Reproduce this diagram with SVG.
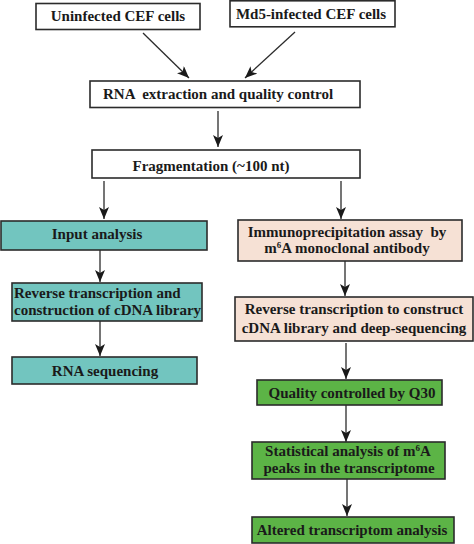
<svg xmlns="http://www.w3.org/2000/svg" width="474" height="544" viewBox="0 0 474 544">
<style>
.box{stroke:#2b2b2b;stroke-width:1.6}
.w{fill:#ffffff}
.t{fill:#72c5bf}
.b{fill:#f6e1d5}
.g{fill:#5cb446}
text{font-family:"Liberation Serif","Times New Roman",serif;font-weight:bold;font-size:15px;fill:#1a1a1a}
.c{text-anchor:middle}
.ln{stroke:#2b2b2b;stroke-width:1.3;fill:none;marker-end:url(#ah)}
</style>
<defs>
<marker id="ah" markerUnits="userSpaceOnUse" markerWidth="12" markerHeight="10" viewBox="0 0 12 10" refX="12" refY="5" orient="auto">
<path d="M0,0 L12,5 L0,10 L3,5 Z" fill="#1a1a1a"/>
</marker>
</defs>
<rect width="474" height="544" fill="#ffffff"/>
<g id="connectors">
<line class="ln" x1="143" y1="33" x2="189" y2="78"/>
<line class="ln" x1="295" y1="32" x2="245" y2="78"/>
<line class="ln" x1="218" y1="111" x2="218" y2="147"/>
<line class="ln" x1="104" y1="181" x2="104" y2="219"/>
<line class="ln" x1="341" y1="181" x2="341" y2="219"/>
<line class="ln" x1="100" y1="250" x2="100" y2="282"/>
<line class="ln" x1="100" y1="321" x2="100" y2="356"/>
<line class="ln" x1="345" y1="261" x2="345" y2="296"/>
<line class="ln" x1="346" y1="343" x2="346" y2="379"/>
<line class="ln" x1="346" y1="405" x2="346" y2="442"/>
<line class="ln" x1="347" y1="479" x2="347" y2="516"/>
</g>
<g id="uninfected"><rect class="box w" x="36" y="3.5" width="164" height="26"/><text class="c" x="118" y="21">Uninfected CEF cells</text></g>
<g id="md5"><rect class="box w" x="230" y="0.8" width="165" height="26"/><text class="c" x="311" y="19">Md5-infected CEF cells</text></g>
<g id="rna-extraction"><rect class="box w" x="90" y="81" width="270" height="26.5"/><text x="103" y="99" xml:space="preserve">RNA  extraction and quality control</text></g>
<g id="fragmentation"><rect class="box w" x="92" y="150" width="268" height="28"/><text class="c" x="211" y="171">Fragmentation (~100 nt)</text></g>
<g id="input"><rect class="box t" x="1" y="221" width="206" height="29"/><text class="c" x="97" y="239">Input analysis</text></g>
<g id="rt-left"><rect class="box t" x="12" y="283" width="190" height="38"/><text x="14" y="298">Reverse transcription and</text><text x="14" y="315">construction of cDNA library</text></g>
<g id="rna-seq"><rect class="box t" x="12" y="357" width="185" height="27"/><text class="c" x="105" y="376">RNA sequencing</text></g>
<g id="ip"><rect class="box b" x="238" y="220" width="224" height="41"/><text class="c" x="347" y="237" xml:space="preserve">Immunoprecipitation assay  by</text><text class="c" x="347" y="253">m<tspan font-size="9" dy="-5">6</tspan><tspan dy="5">A monoclonal antibody</tspan></text></g>
<g id="rt-right"><rect class="box b" x="235" y="297" width="238" height="44"/><text class="c" x="354" y="314">Reverse transcription to construct</text><text class="c" x="354" y="333">cDNA library and deep-sequencing</text></g>
<g id="q30"><rect class="box g" x="257" y="380" width="185" height="25"/><text class="c" x="352" y="398">Quality controlled by Q30</text></g>
<g id="stat"><rect class="box g" x="252" y="442" width="193" height="37"/><text class="c" x="348" y="456">Statistical analysis of m<tspan font-size="9" dy="-5">6</tspan><tspan dy="5">A</tspan></text><text class="c" x="349" y="473">peaks in the transcriptome</text></g>
<g id="altered"><rect class="box g" x="252" y="517" width="202" height="26"/><text class="c" x="352" y="535">Altered transcriptom analysis</text></g>
</svg>
